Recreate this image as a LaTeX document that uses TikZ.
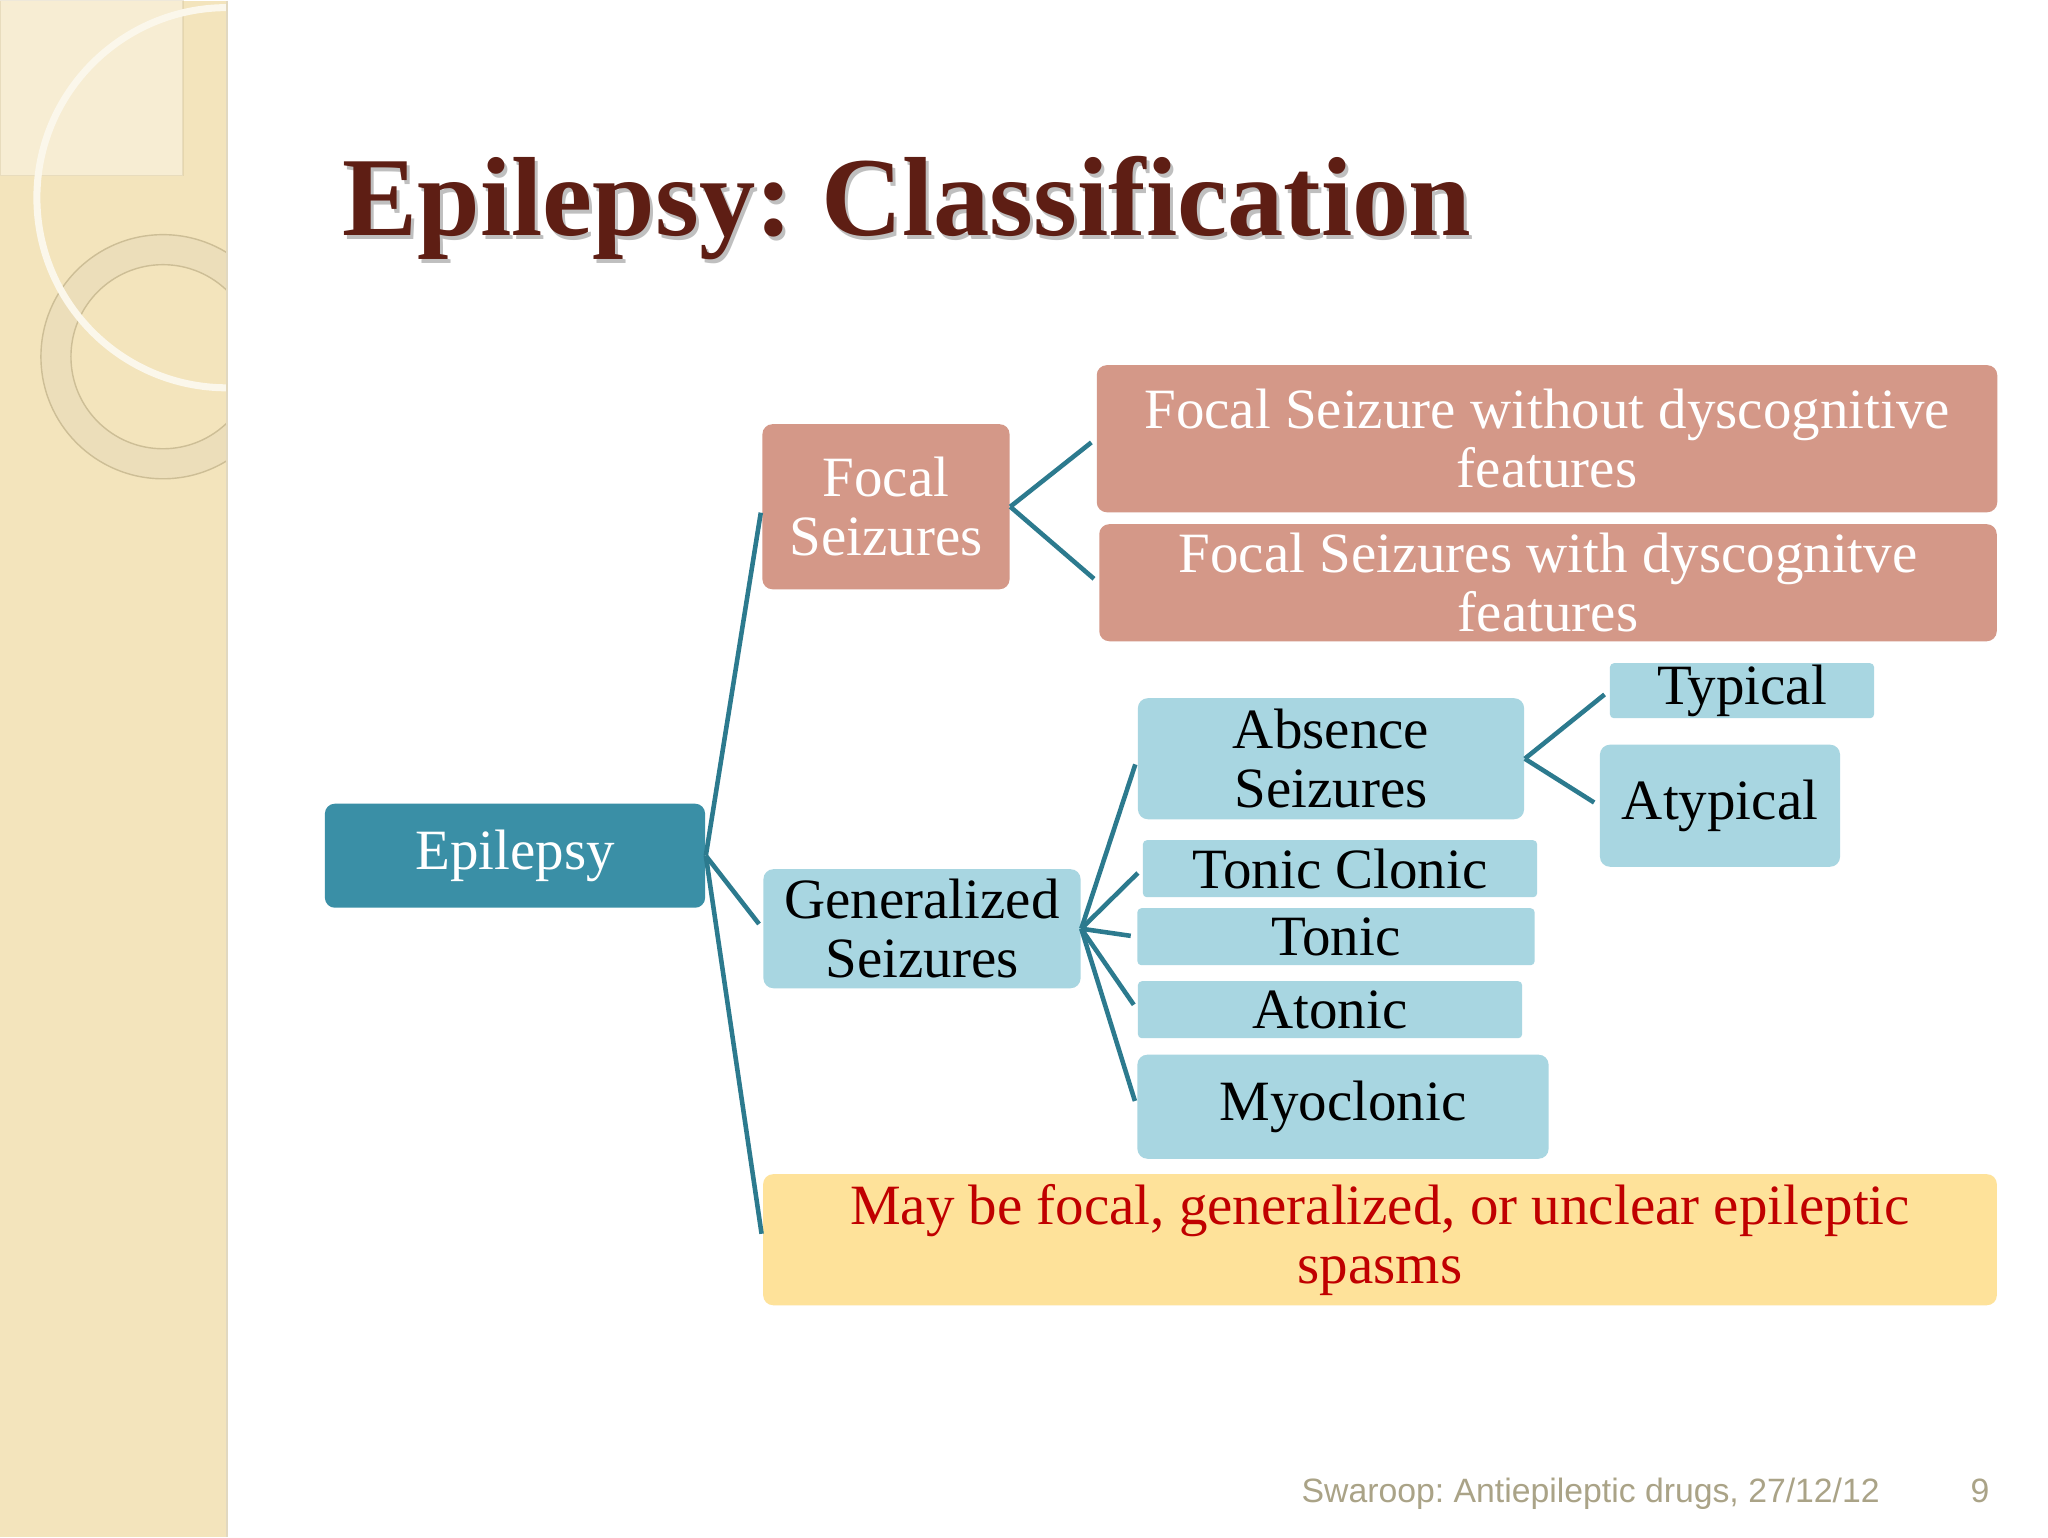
\documentclass[tikz,border=0pt]{standalone}
\usepackage{fontspec}
\setmainfont{Liberation Serif}
\setsansfont{Liberation Sans}
\frenchspacing
\usetikzlibrary{positioning}
\definecolor{epiteal}{RGB}{58,143,166}
\definecolor{linkteal}{RGB}{44,122,142}
\definecolor{focalrose}{RGB}{212,152,136}
\definecolor{genblue}{RGB}{168,214,225}
\definecolor{noteyellow}{RGB}{254,226,154}
\definecolor{notered}{RGB}{192,0,0}
\definecolor{titlebrown}{RGB}{94,30,20}
\definecolor{footgray}{RGB}{170,163,135}
\definecolor{stripbeige}{RGB}{243,228,188}
\definecolor{ringbeige}{RGB}{236,222,186}
\definecolor{ringedge}{RGB}{205,190,150}

\begin{document}
\begin{tikzpicture}[
      x=0.01cm, y=-0.01cm,
      box/.style={rounded corners=0.1cm, align=center, inner sep=0pt, font=\fontsize{16.2}{16.8}\selectfont},
      epibox/.style={box, fill=epiteal, text=white},
      focalbox/.style={box, fill=focalrose, text=white},
      genbox/.style={box, fill=genblue, text=black},
      flatbox/.style={genbox, rounded corners=0.04cm},
      notebox/.style={box, fill=noteyellow, text=notered},
      link/.style={draw=linkteal, line width=1.3pt, shorten >=0.06cm},
      slidetitle/.style={inner sep=0pt, font=\fontsize{32}{36}\selectfont\bfseries},
      foot/.style={inner sep=0pt, text=footgray, font=\sffamily\fontsize{9.6}{11}\selectfont}
  ]
    % slide background and left strip
    \fill[white] (0,0) rectangle (2048,1536);
    \begin{scope}
      \clip (0,0) rectangle (227,1536);
      \fill[stripbeige] (0,0) rectangle (227,1536);
      \fill[white, opacity=0.35, draw=ringedge] (0,0) rectangle (183,175);
      \fill[ringbeige, draw=ringedge, even odd rule] (163,356) circle (1.22cm) (163,356) circle (0.92cm);
      \draw[white!70!stripbeige, line width=2pt] (227,197) circle (1.90cm);
    \end{scope}
    \draw[ringedge!60] (227,0) -- (227,1536);

    % title
    \node[slidetitle, text=black!25, anchor=base west] at (345,239) {Epilepsy: Classification};
    \node[slidetitle, text=titlebrown, anchor=base west] (title) at (342,235) {Epilepsy: Classification};

    % classification tree
    \node[epibox, minimum width=3.80cm, minimum height=1.04cm] (epi) at (515,855) {Epilepsy};
    \node[focalbox, minimum width=2.47cm, minimum height=1.65cm] (focal) at (886,506) {Focal\\Seizures};
    \node[focalbox, minimum width=9.00cm, minimum height=1.47cm] (fwo) at (1547,438) {Focal Seizure without dyscognitive\\features};
    \node[focalbox, minimum width=8.97cm, minimum height=1.17cm] (fwith) at (1548,582) {Focal Seizures with dyscognitve\\features};
    \node[genbox, minimum width=3.17cm, minimum height=1.19cm] (gen) at (922,928) {Generalized\\Seizures};
    \node[genbox, minimum width=3.86cm, minimum height=1.21cm] (abs) at (1331,758) {Absence\\Seizures};
    \node[flatbox, minimum width=2.64cm, minimum height=0.55cm] (typ) at (1742,690) {Typical};
    \node[genbox, minimum width=2.40cm, minimum height=1.22cm] (atyp) at (1720,805) {Atypical};
    \node[flatbox, minimum width=3.94cm, minimum height=0.57cm] (tc) at (1340,868) {Tonic Clonic};
    \node[flatbox, minimum width=3.97cm, minimum height=0.57cm] (ton) at (1336,936) {Tonic};
    \node[flatbox, minimum width=3.84cm, minimum height=0.57cm] (aton) at (1330,1009) {Atonic};
    \node[genbox, minimum width=4.11cm, minimum height=1.04cm] (myo) at (1343,1106) {Myoclonic};
    \node[notebox, minimum width=12.33cm, minimum height=1.31cm] (note) at (1380,1239) {May be focal, generalized, or unclear epileptic\\spasms};

    \draw[link] (epi.east) -- (focal.west);
    \draw[link] (epi.east) -- (gen.west);
    \draw[link] (epi.east) -- (note.west);
    \draw[link] (focal.east) -- (fwo.west);
    \draw[link] (focal.east) -- (fwith.west);
    \foreach \kind in {abs,tc,ton,aton,myo}
      \draw[link] (gen.east) -- (\kind.west);
    \draw[link] (abs.east) -- (typ.west);
    \draw[link] (abs.east) -- (atyp.west);

    % footer
    \node[foot, anchor=base west] (source) at (1301,1502) {Swaroop: Antiepileptic drugs, 27/12/12};
    \node[foot, anchor=base] (pagenum) at (1980,1502) {9};
  \end{tikzpicture}
\end{document}
